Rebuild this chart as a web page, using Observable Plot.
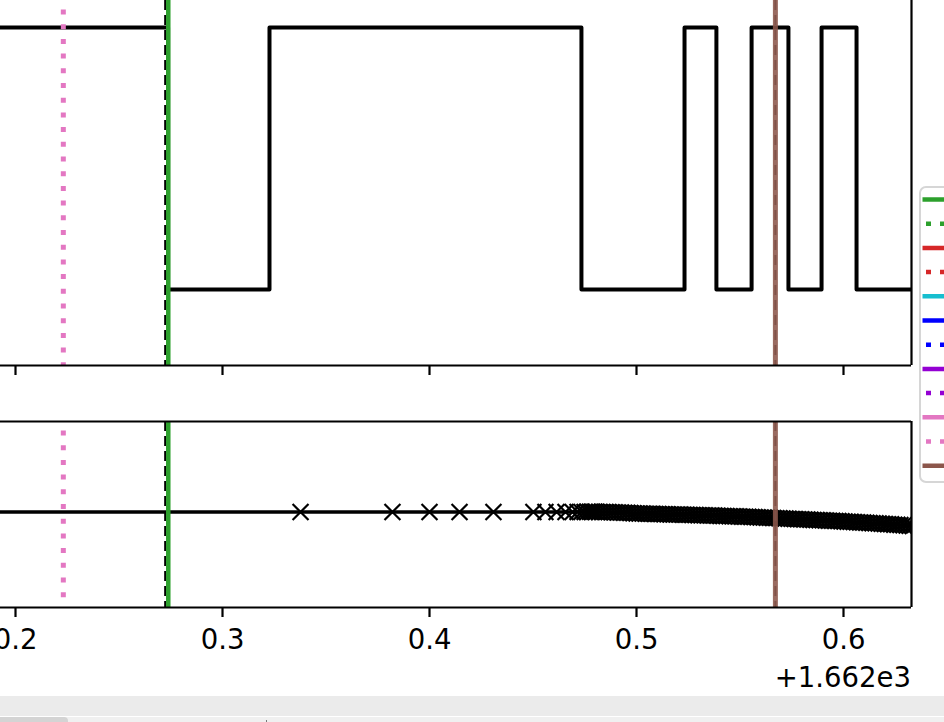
<!DOCTYPE html>
<html><head><meta charset="utf-8">
<script src="https://cdn.jsdelivr.net/npm/d3@7"></script>
<script src="https://cdn.jsdelivr.net/npm/@observablehq/plot@0.6"></script>
<style>
html,body{margin:0;padding:0;background:#fff;}
body{width:944px;height:722px;overflow:hidden;position:relative;font-family:"DejaVu Sans";}
#top{position:absolute;left:0;top:0;}
#bottom{position:absolute;left:0;top:380px;}
#overlay{position:absolute;left:0;top:0;pointer-events:none;}
.strip{position:absolute;left:0;top:696px;width:944px;height:20px;background:#ebebeb;}
.strip2{position:absolute;left:0;top:717px;width:944px;height:5px;background:#f0f0f0;}
.thumb{position:absolute;left:0;top:717px;width:68px;height:5px;background:#d4d4d4;border-top-right-radius:4px;}
.tick{position:absolute;left:266px;top:720px;width:1px;height:2px;background:#777;}
</style></head><body>
<div id="top"></div>
<div id="bottom"></div>
<svg id="overlay" width="944" height="722"></svg>
<div class="strip"></div><div class="strip2"></div><div class="thumb"></div><div class="tick"></div>
<script>
// ---- data (x values are offsets from OFFSET, as in the axis offset text) ----
const OFFSET = 1662;
const xTicks = [0.2, 0.3, 0.4, 0.5, 0.6];
const xDomain = [0.19275, 0.63285];

// top panel: step signal
const stepX = [0.15, 0.2737, 0.3227, 0.4734, 0.5232, 0.5386, 0.5556, 0.5734, 0.5894, 0.6063, 0.70];
const stepY = [1, 0, 1, 0, 1, 0, 1, 0, 1, 0, 0];
const topYDomain = [-0.290, 1.103];

// bottom panel: marker series
const sparseX = [0.18, 0.3377, 0.3821, 0.4000, 0.4145, 0.4309, 0.4502, 0.4560, 0.4614, 0.4657, 0.4691, 0.4715, 0.4734, 0.4749, 0.4763, 0.4775, 0.4786, 0.4796];
const sparseY = [0, 0, 0, 0, 0, 0, 0, 0, 0, 0, 0, 0.001, 0.001, 0.001, 0.002, 0.002, 0.002, 0.002];
const denseX = [0.4805, 0.4820, 0.4835, 0.4850, 0.4865, 0.4880, 0.4895, 0.4910, 0.4925, 0.4940,
  0.4955, 0.4970, 0.4985, 0.5000, 0.5015, 0.5030, 0.5045, 0.5060, 0.5075, 0.5090,
  0.5105, 0.5120, 0.5135, 0.5150, 0.5165, 0.5180, 0.5195, 0.5210, 0.5225, 0.5240,
  0.5255, 0.5270, 0.5285, 0.5300, 0.5315, 0.5330, 0.5345, 0.5360, 0.5375, 0.5390,
  0.5405, 0.5420, 0.5435, 0.5450, 0.5465, 0.5480, 0.5495, 0.5510, 0.5525, 0.5540,
  0.5555, 0.5570, 0.5585, 0.5600, 0.5615, 0.5630, 0.5645, 0.5660, 0.5675, 0.5690,
  0.5705, 0.5720, 0.5735, 0.5750, 0.5765, 0.5780, 0.5795, 0.5810, 0.5825, 0.5840,
  0.5855, 0.5870, 0.5885, 0.5900, 0.5915, 0.5930, 0.5945, 0.5960, 0.5975, 0.5990,
  0.6005, 0.6020, 0.6035, 0.6050, 0.6065, 0.6080, 0.6095, 0.6110, 0.6125, 0.6140,
  0.6155, 0.6170, 0.6185, 0.6200, 0.6215, 0.6230, 0.6245, 0.6260, 0.6275, 0.6290,
  0.6305, 0.6320, 0.6335];
const denseY = [0.002, 0.001, 0.000, 0.000, -0.001, -0.002, -0.004, -0.005, -0.006, -0.008,
  -0.009, -0.011, -0.013, -0.015, -0.016, -0.017, -0.018, -0.019, -0.020, -0.021,
  -0.022, -0.023, -0.024, -0.025, -0.026, -0.026, -0.027, -0.028, -0.029, -0.030,
  -0.031, -0.032, -0.033, -0.034, -0.035, -0.036, -0.037, -0.038, -0.039, -0.041,
  -0.042, -0.043, -0.044, -0.045, -0.046, -0.047, -0.048, -0.050, -0.051, -0.052,
  -0.054, -0.055, -0.057, -0.058, -0.060, -0.061, -0.063, -0.064, -0.066, -0.067,
  -0.069, -0.071, -0.072, -0.074, -0.075, -0.077, -0.079, -0.080, -0.082, -0.083,
  -0.085, -0.086, -0.088, -0.090, -0.091, -0.093, -0.094, -0.096, -0.098, -0.100,
  -0.102, -0.104, -0.106, -0.108, -0.110, -0.112, -0.114, -0.116, -0.118, -0.120,
  -0.122, -0.124, -0.126, -0.128, -0.131, -0.133, -0.136, -0.138, -0.141, -0.143,
  -0.146, -0.149, -0.152];
const bottomYDomain = [-1.027, 0.973];

// vertical reference lines
const refPinkDotted = [0.2231];
const refBlackDashed = [0.2723];
const refGreen = [0.2738];
const refBrown = [0.5671];

// legend entries (labels are cut off in the picture)
const legendColors = ["#2ca02c", "#2ca02c", "#d62728", "#d62728", "#17becf", "#0000ff", "#0000ff", "#9400d3", "#9400d3", "#e377c2", "#e377c2", "#8c564b"];
const legendDotted = [false, true, false, true, false, false, true, false, true, false, true, false];

// ---- build ----
const stepData = stepX.map((x, i) => ({x, y: stepY[i]}));
const allY = sparseY.concat(denseY);
const markData = sparseX.concat(denseX).map((x, i) => ({x, y: allY[i]}));
const style = {fontFamily: "DejaVu Sans", fontSize: "27.5px", color: "black", background: "white", overflow: "visible"};

function refMarks() {
  return [
    Plot.ruleX(refPinkDotted, {stroke: "#e377c2", strokeWidth: 5, strokeDasharray: "5 9.7", strokeDashoffset: -9.5}),
    Plot.ruleX(refBlackDashed, {stroke: "black", strokeWidth: 2, strokeDasharray: "10 5"}),
    Plot.ruleX(refGreen, {stroke: "#2ca02c", strokeWidth: 4.5}),
    Plot.ruleX(refBrown, {stroke: "#333", strokeWidth: 2, strokeDasharray: "10 5"}),
    Plot.ruleX(refBrown, {stroke: "#8c564b", strokeWidth: 5, strokeOpacity: 0.88})
  ];
}

const topPlot = Plot.plot({
  width: 944, height: 380,
  marginLeft: 0, marginRight: 33, marginTop: 0, marginBottom: 15,
  style,
  x: {domain: xDomain, axis: null},
  y: {domain: topYDomain, axis: null},
  marks: [
    Plot.axisX({ticks: xTicks, tickSize: 10, strokeWidth: 2.2, tickFormat: () => "", label: null}),
    Plot.line(stepData, {x: "x", y: "y", curve: "step-after", stroke: "black", strokeWidth: 4, clip: true}),
    ...refMarks(),
    Plot.ruleY([topYDomain[0]], {stroke: "black", strokeWidth: 2.2}),
    Plot.ruleX([xDomain[1]], {stroke: "black", strokeWidth: 2.2})
  ]
});
document.getElementById("top").appendChild(topPlot);

const bottomPlot = Plot.plot({
  width: 944, height: 316,
  marginLeft: 0, marginRight: 33, marginTop: 41, marginBottom: 89,
  style,
  x: {domain: xDomain, axis: null},
  y: {domain: bottomYDomain, axis: null},
  marks: [
    Plot.axisX({ticks: xTicks, tickSize: 10, tickPadding: 12, strokeWidth: 2.2, tickFormat: d => d.toFixed(1), label: null}),
    Plot.line(markData, {x: "x", y: "y", stroke: "black", strokeWidth: 3.5, clip: true}),
    Plot.dot(markData, {x: "x", y: "y", symbol: "times", r: 7.3, stroke: "black", strokeWidth: 2.2, clip: true}),
    ...refMarks(),
    Plot.ruleY(bottomYDomain, {stroke: "black", strokeWidth: 2.2}),
    Plot.ruleX([xDomain[1]], {stroke: "black", strokeWidth: 2.2})
  ]
});
document.getElementById("bottom").appendChild(bottomPlot);

// overlay: offset text and legend
const ov = d3.select("#overlay");
ov.append("text").attr("x", 911).attr("y", 687).attr("text-anchor", "end")
  .attr("font-family", "DejaVu Sans").attr("font-size", 27.5).attr("fill", "black")
  .text("+" + (OFFSET / 1000).toFixed(3) + "e3");
ov.append("rect").attr("x", 920).attr("y", 187).attr("width", 60).attr("height", 295)
  .attr("rx", 6).attr("fill", "white").attr("fill-opacity", 0.8)
  .attr("stroke", "#d6d6d6").attr("stroke-width", 2);
legendColors.forEach((c, i) => {
  const y = 199.5 + i * 24.2;
  ov.append("line").attr("x1", legendDotted[i] ? 926 : 922.5).attr("x2", 960)
    .attr("y1", y).attr("y2", y).attr("stroke", c).attr("stroke-width", 4.5)
    .attr("stroke-dasharray", legendDotted[i] ? "5 9" : null);
});
</script>
</body></html>
